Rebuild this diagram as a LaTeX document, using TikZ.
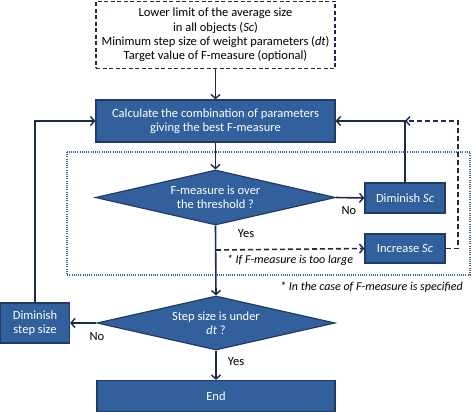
\documentclass[tikz,border=0pt]{standalone}
\usepackage{fontspec}
\setmainfont{Carlito}
\usetikzlibrary{shapes.geometric,arrows.meta}
\definecolor{boxfill}{HTML}{32609D}
\definecolor{boxline}{HTML}{203B66}
\definecolor{lnk}{HTML}{1C2A45}
\definecolor{dotc}{HTML}{3D62A0}
\begin{document}
\begin{tikzpicture}[x=1pt,y=-1pt,
  every node/.style={font=\fontsize{12.5}{14.3}\selectfont},
  proc/.style={draw=boxline,line width=1.2pt,fill=boxfill,text=white,align=center,inner sep=0pt},
  dec/.style={diamond,draw=boxline,line width=1.2pt,fill=boxfill,text=white,align=center,inner sep=0pt,shape aspect=4.3},
  conn/.style={draw=lnk,line width=1.6pt,-{Straight Barb[length=4pt,width=9pt,line width=1.4pt]}},
  dconn/.style={conn,dash pattern=on 5pt off 3pt},
  lbl/.style={text=black,inner sep=0pt},
  note/.style={text=black,inner sep=0pt,font=\fontsize{12}{14}\selectfont\itshape}]
\useasboundingbox (0,0) rectangle (474,412);
% dotted region
\draw[draw=dotc,line width=1.1pt,dash pattern=on 1pt off 1.2pt] (67,152) rectangle (470,275);
% input box
\node[draw=lnk,line width=1.3pt,dash pattern=on 4pt off 2.5pt,fill=white,align=center,minimum width=239pt,minimum height=67pt,inner sep=0pt] (inp) at (215.5,35)
  {Lower limit of the average size\\in all objects (\textit{Sc})\\Minimum step size of weight parameters (\textit{dt})\\Target value of F-measure (optional)};
\node[proc,minimum width=239pt,minimum height=42pt] (calc) at (215.5,121) {Calculate the combination of parameters\\giving the best F-measure};
\node[dec,minimum width=240pt,minimum height=55pt] (d1) at (215.5,197.5) {F-measure is over\\the threshold ?};
\node[proc,minimum width=80pt,minimum height=30pt] (dimsc) at (405,198) {Diminish \textit{Sc}};
\node[proc,minimum width=80pt,minimum height=29pt] (incsc) at (405,248.5) {Increase \textit{Sc}};
\node[dec,minimum width=238pt,minimum height=54pt] (d2) at (216,323) {Step size is under\\\textit{dt} ?};
\node[proc,minimum width=69pt,minimum height=40pt] (dimstep) at (35,323) {Diminish\\step size};
\node[proc,minimum width=238pt,minimum height=31pt] (endn) at (216,396) {End};
% connectors
\draw[conn] (inp.south) -- (calc.north);
\draw[conn] (calc.south) -- (d1.north);
\draw[conn] (d1.east) -- (dimsc.west);
\draw[conn] (dimsc.north) |- (calc.east);
\coordinate (br) at (216,250);
\draw[conn] (d1.south) -- (d2.north);
\draw[dconn] (br) -- (incsc.west);
\coordinate (rt) at (458,121);
\draw[dconn] (incsc.east) -| (rt) -- (dimsc.north |- calc.east);
\draw[conn] (d2.west) -- (dimstep.east);
\draw[conn] (dimstep.north) |- (calc.west);
\draw[conn] (d2.south) -- (endn.north);
% labels
\node[lbl] (no1) at (349,211) {No};
\node[lbl] (yes1) at (246,234) {Yes};
\node[note] (n1) at (290,260) {* If F-measure is too large};
\node[note,anchor=east] (n2) at (463,287) {* In the case of F-measure is specified};
\node[lbl] (no2) at (97,337) {No};
\node[lbl] (yes2) at (236,362) {Yes};
\end{tikzpicture}
\end{document}
